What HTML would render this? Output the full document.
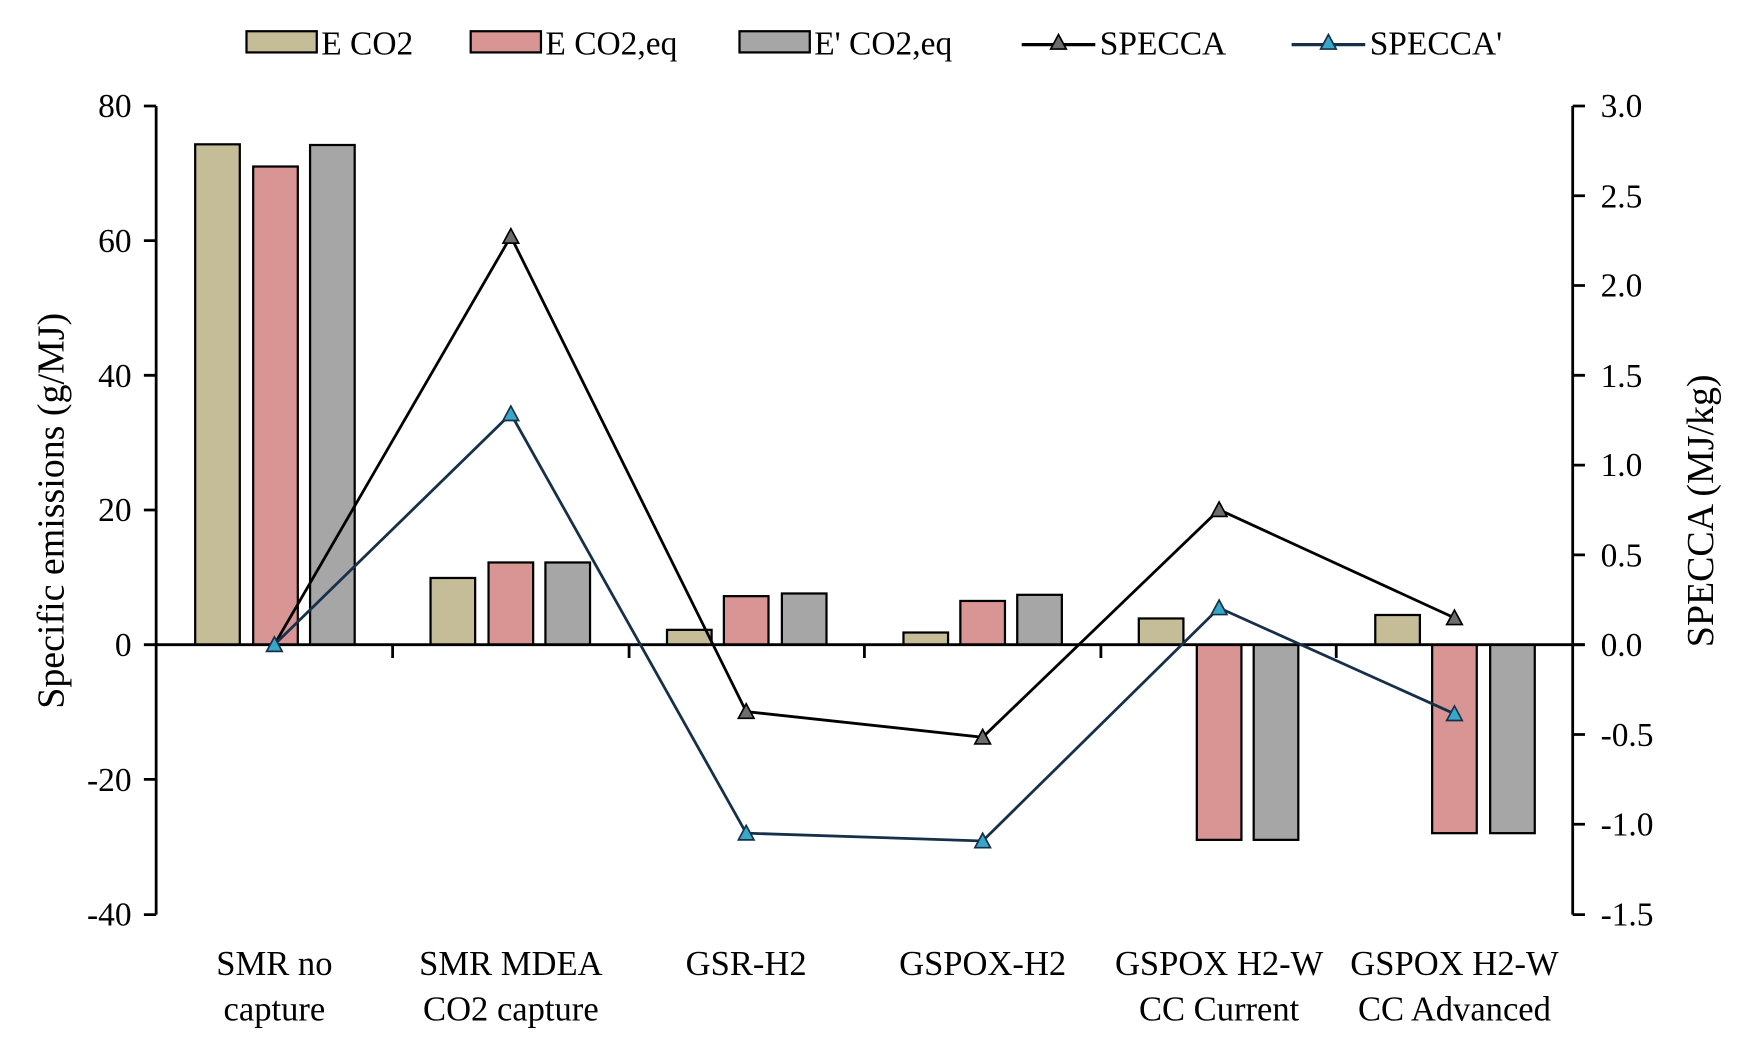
<!DOCTYPE html>
<html><head><style>html,body{margin:0;padding:0;background:#fff}svg{display:block}text{font-family:"Liberation Serif",serif;fill:#000}</style></head>
<body>
<svg width="1740" height="1052" viewBox="0 0 1560 943.2" preserveAspectRatio="none" xmlns="http://www.w3.org/2000/svg">
<!-- legend -->
<rect x="221" y="28" width="63" height="19" fill="#c5bd97" stroke="#000" stroke-width="2"/>
<text x="288" y="49" font-size="30">E CO2</text>
<rect x="422" y="28" width="63" height="19" fill="#d99594" stroke="#000" stroke-width="2"/>
<text x="489" y="49" font-size="30">E CO2,eq</text>
<rect x="663" y="28" width="63" height="19" fill="#a6a6a6" stroke="#000" stroke-width="2"/>
<text x="730" y="49" font-size="30">E' CO2,eq</text>
<line x1="916" y1="40" x2="982" y2="40" stroke="#000" stroke-width="3"/>
<polygon points="949,31 956,44 942,44" fill="#6d6d6d" stroke="#000" stroke-width="1.5"/>
<text x="986" y="49" font-size="30">SPECCA</text>
<line x1="1158" y1="40" x2="1224" y2="40" stroke="#17304a" stroke-width="3"/>
<polygon points="1191,31 1198,44 1184,44" fill="#39a8c8" stroke="#17304a" stroke-width="1.5"/>
<text x="1228" y="49" font-size="30">SPECCA'</text>
<!-- bars -->
<g stroke="#000" stroke-width="2">
<rect x="175" y="129.4" width="40" height="448.6" fill="#c5bd97"/>
<rect x="227" y="149.3" width="40" height="428.7" fill="#d99594"/>
<rect x="278" y="130" width="40" height="448" fill="#a6a6a6"/>
<rect x="386" y="518.2" width="40" height="59.8" fill="#c5bd97"/>
<rect x="438" y="504.3" width="40" height="73.7" fill="#d99594"/>
<rect x="489" y="504.3" width="40" height="73.7" fill="#a6a6a6"/>
<rect x="598" y="564.7" width="40" height="13.3" fill="#c5bd97"/>
<rect x="649" y="534.5" width="40" height="43.5" fill="#d99594"/>
<rect x="701" y="532.1" width="40" height="45.9" fill="#a6a6a6"/>
<rect x="810" y="567.1" width="40" height="10.9" fill="#c5bd97"/>
<rect x="861" y="538.8" width="40" height="39.2" fill="#d99594"/>
<rect x="912" y="533.3" width="40" height="44.7" fill="#a6a6a6"/>
<rect x="1021" y="554.5" width="40" height="23.5" fill="#c5bd97"/>
<rect x="1073" y="578" width="40" height="175" fill="#d99594"/>
<rect x="1124" y="578" width="40" height="175" fill="#a6a6a6"/>
<rect x="1233" y="551.4" width="40" height="26.6" fill="#c5bd97"/>
<rect x="1284" y="578" width="40" height="169" fill="#d99594"/>
<rect x="1336" y="578" width="40" height="169" fill="#a6a6a6"/>
</g>
<!-- axes -->
<g stroke="#000" stroke-width="2.5" fill="none">
<line x1="140" y1="95" x2="140" y2="820"/>
<line x1="1410" y1="95" x2="1410" y2="820"/>
<line x1="140" y1="578" x2="1420" y2="578"/>
<path d="M129 95H140M129 215.75H140M129 336.5H140M129 457.25H140M129 578H140M129 698.75H140M129 820H140"/>
<path d="M1410 95H1421M1410 175.5H1421M1410 256H1421M1410 336.5H1421M1410 417H1421M1410 497.5H1421M1410 578H1421M1410 658.5H1421M1410 739H1421M1410 820H1421"/>
<path d="M352 578V590M564 578V590M775 578V590M987 578V590M1198 578V590"/>
</g>
<!-- lines -->
<polyline points="246,578 458,212 669,638 881,661 1093,457 1304,554" fill="none" stroke="#000" stroke-width="2.5"/>
<polyline points="246,578 458,371 669,747 881,754 1093,545 1304,640" fill="none" stroke="#17304a" stroke-width="2.5"/>
<g fill="#6d6d6d" stroke="#000" stroke-width="1.5">
<polygon points="458,205 465,218 451,218"/><polygon points="669,631 676,644 662,644"/><polygon points="881,654 888,667 874,667"/><polygon points="1093,450 1100,463 1086,463"/><polygon points="1304,547 1311,560 1297,560"/>
</g>
<g fill="#39a8c8" stroke="#17304a" stroke-width="1.5">
<polygon points="246,571 253,584 239,584"/><polygon points="458,364 465,377 451,377"/><polygon points="669,740 676,753 662,753"/><polygon points="881,747 888,760 874,760"/><polygon points="1093,538 1100,551 1086,551"/><polygon points="1304,633 1311,646 1297,646"/>
</g>
<!-- tick labels -->
<g font-size="30" text-anchor="end">
<text x="118" y="105">80</text><text x="118" y="226">60</text><text x="118" y="347">40</text><text x="118" y="467">20</text><text x="118" y="588">0</text><text x="118" y="709">-20</text><text x="118" y="830">-40</text>
</g>
<g font-size="30" text-anchor="start">
<text x="1435" y="105">3.0</text><text x="1435" y="186">2.5</text><text x="1435" y="266">2.0</text><text x="1435" y="347">1.5</text><text x="1435" y="427">1.0</text><text x="1435" y="508">0.5</text><text x="1435" y="588">0.0</text><text x="1435" y="669">-0.5</text><text x="1435" y="749">-1.0</text><text x="1435" y="830">-1.5</text>
</g>
<g font-size="31" text-anchor="middle">
<text x="246" y="874">SMR no</text><text x="246" y="915">capture</text>
<text x="458" y="874">SMR MDEA</text><text x="458" y="915">CO2 capture</text>
<text x="669" y="874">GSR-H2</text>
<text x="881" y="874">GSPOX-H2</text>
<text x="1093" y="874">GSPOX H2-W</text><text x="1093" y="915">CC Current</text>
<text x="1304" y="874">GSPOX H2-W</text><text x="1304" y="915">CC Advanced</text>
</g>
<text transform="translate(57,458) rotate(-90)" font-size="34" text-anchor="middle">Specific emissions (g/MJ)</text>
<text transform="translate(1536,458) rotate(-90)" font-size="34" text-anchor="middle">SPECCA (MJ/kg)</text>
</svg>
</body></html>
